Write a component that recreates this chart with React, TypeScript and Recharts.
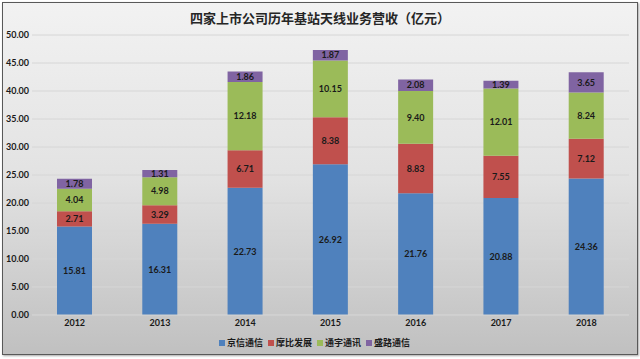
import {
	Bar,
	BarChart,
	CartesianGrid,
	LabelList,
	Legend,
	XAxis,
	YAxis,
} from "recharts"

const years = ["2012", "2013", "2014", "2015", "2016", "2017", "2018"]
const jingxin = [15.81, 16.31, 22.73, 26.92, 21.76, 20.88, 24.36]
const mobi = [2.71, 3.29, 6.71, 8.38, 8.83, 7.55, 7.12]
const tongyu = [4.04, 4.98, 12.18, 10.15, 9.4, 12.01, 8.24]
const shenglu = [1.78, 1.31, 1.86, 1.87, 2.08, 1.39, 3.65]
const yTicks = [0, 5, 10, 15, 20, 25, 30, 35, 40, 45, 50]

const series = [
	{ key: "jingxin", name: "京信通信", color: "#4f81bd", values: jingxin },
	{ key: "mobi", name: "摩比发展", color: "#c0504d", values: mobi },
	{ key: "tongyu", name: "通宇通讯", color: "#9bbb59", values: tongyu },
	{ key: "shenglu", name: "盛路通信", color: "#8064a2", values: shenglu },
]

const chartData = years.map((year, i) => {
	const row: Record<string, string | number> = { year }
	series.forEach((s) => {
		row[s.key] = s.values[i]
	})
	return row
})

const labelFont = "Lato, 'Liberation Sans', sans-serif"

const renderLegend = () => (
	<div
		style={{
			display: "flex",
			justifyContent: "center",
			gap: 5,
			fontFamily: "'Noto Sans CJK SC', sans-serif",
			fontSize: 9,
			fontWeight: 700,
			color: "#1a1a1a",
			lineHeight: "20px",
		}}
	>
		{series.map((s) => (
			<span key={s.key} style={{ display: "inline-flex", alignItems: "center", gap: 2 }}>
				<span style={{ width: 6, height: 6, background: s.color, display: "inline-block" }} />
				{s.name}
			</span>
		))}
	</div>
)

export default function App() {
	return (
		<div
			style={{
				position: "fixed",
				left: 0,
				top: 0,
				width: 640,
				height: 359,
				background: "#ffffff",
			}}
		>
			<div
				style={{
					position: "absolute",
					left: 2,
					top: 2,
					width: 634,
					height: 351,
					border: "1px solid #595959",
					background: "linear-gradient(to bottom, #f2f2f2 0%, #e2e2e2 50%, #c0c0c0 100%)",
					boxShadow: "1px 1px 2px rgba(0,0,0,0.35)",
				}}
			/>
			<div
				style={{
					position: "absolute",
					left: 0,
					top: 9,
					width: 640,
					textAlign: "center",
					fontFamily: "'Noto Sans CJK SC', serif",
					fontSize: 13,
					fontWeight: 700,
					color: "#262626",
					lineHeight: "18px",
				}}
			>
				四家上市公司历年基站天线业务营收（亿元）
			</div>
			<div style={{ position: "absolute", left: 0, top: 0 }}>
				<BarChart
					width={640}
					height={359}
					data={chartData}
					margin={{ top: 35, right: 11, left: 0, bottom: 6 }}
				>
					<CartesianGrid vertical={false} stroke='#d6d6d6' />
					<XAxis
						dataKey='year'
						height={18}
						tickLine={false}
						tickSize={0}
						tickMargin={5}
						axisLine={{ stroke: "#d0d0d0" }}
						tick={{ fontSize: 9, fontWeight: 700, fill: "#1a1a1a", fontFamily: labelFont }}
					/>
					<YAxis
						width={32}
						domain={[0, 50]}
						ticks={yTicks}
						interval={0}
						axisLine={false}
						tickLine={false}
						tickSize={0}
						tickMargin={3}
						tickFormatter={(v: number) => v.toFixed(2)}
						tick={{ fontSize: 9, fontWeight: 700, fill: "#1a1a1a", fontFamily: labelFont }}
					/>
					<Legend verticalAlign='bottom' height={20} content={renderLegend} />
					{series.map((s) => (
						<Bar
							key={s.key}
							dataKey={s.key}
							name={s.name}
							stackId='a'
							fill={s.color}
							barSize={35}
							isAnimationActive={false}
						>
							<LabelList
								dataKey={s.key}
								position='center'
								formatter={(v: number) => Number(v).toFixed(2)}
								style={{
									fontSize: 9,
									fontWeight: 700,
									fill: "#1a1a1a",
									fontFamily: labelFont,
								}}
							/>
						</Bar>
					))}
				</BarChart>
			</div>
		</div>
	)
}
